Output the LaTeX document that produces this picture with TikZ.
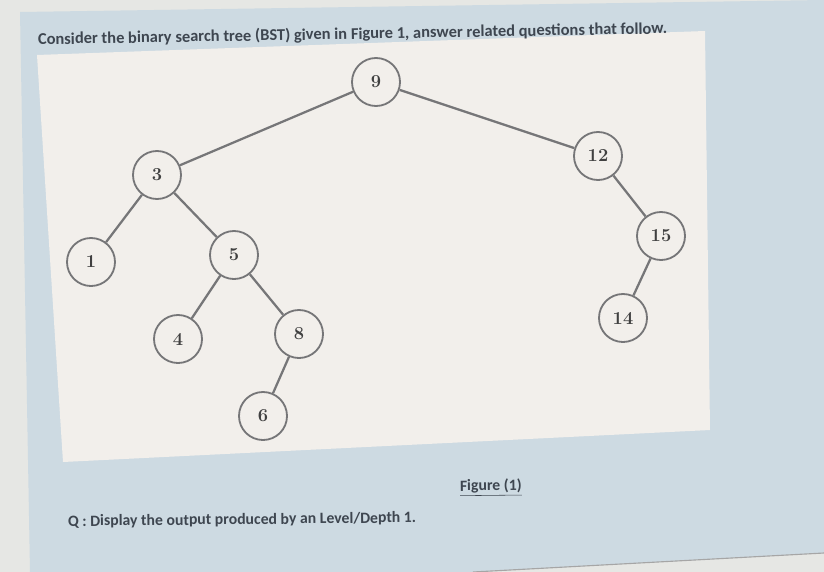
\documentclass[tikz,border=0pt]{standalone}
\usepackage{fontspec}
\newfontfamily\screenfont{Carlito}
\usepackage{tikz}
\definecolor{deskgray}{RGB}{230,231,228}
\definecolor{screenblue}{RGB}{205,218,226}
\definecolor{paper}{RGB}{242,239,235}
\definecolor{edgegray}{RGB}{118,118,120}
\definecolor{inkgray}{RGB}{62,70,80}

\begin{document}
\begin{tikzpicture}[x=0.025cm,y=-0.025cm,
	bst/.style={circle,draw=edgegray,line width=1.3pt,fill=paper,
		minimum size=1.2cm,inner sep=0pt,font=\fontsize{13}{15}\selectfont\bfseries,text=black!75},
	link/.style={edgegray,line width=1.6pt},
	screentext/.style={font=\screenfont\fontsize{11.2}{13}\selectfont\bfseries,text=inkgray}]
\useasboundingbox (0,0) rectangle (824,572);
\fill[deskgray] (0,0) rectangle (824,572);
\fill[screenblue] (20,12) -- (824,0) -- (824,553) -- (473,572) -- (30,572) -- cycle;
\draw[black!35,line width=0.8pt] (473,572) -- (824,553);
\fill[paper] (37,55) -- (705,31) -- (710,430) -- (63,462) -- cycle;

\node[screentext,font=\screenfont\fontsize{11.7}{13}\selectfont\bfseries,anchor=west,rotate=1] (title) at (33,40)
	{Consider the binary search tree (BST) given in Figure 1, answer related questions that follow.};

\node[bst] (n9) at (376,82) {9};
\node[bst] (n3) at (157,175) {3};
\node[bst] (n12) at (598,156) {12};
\node[bst] (n1) at (91,262) {1};
\node[bst] (n5) at (234,255) {5};
\node[bst] (n15) at (661,236) {15};
\node[bst] (n4) at (178,339) {4};
\node[bst] (n8) at (299,334) {8};
\node[bst] (n14) at (623,318) {14};
\node[bst] (n6) at (263,416) {6};

\draw[link] (n9) -- (n3);
\draw[link] (n9) -- (n12);
\draw[link] (n3) -- (n1);
\draw[link] (n3) -- (n5);
\draw[link] (n5) -- (n4);
\draw[link] (n5) -- (n8);
\draw[link] (n8) -- (n6);
\draw[link] (n12) -- (n15);
\draw[link] (n15) -- (n14);

\node[screentext,anchor=west,rotate=0.6] (caption) at (455,488) {\underline{Figure (1)}};
\node[screentext,anchor=west,rotate=0.6] (question) at (63,522)
	{Q : Display the output produced by an Level/Depth 1.};
\end{tikzpicture}
\end{document}
